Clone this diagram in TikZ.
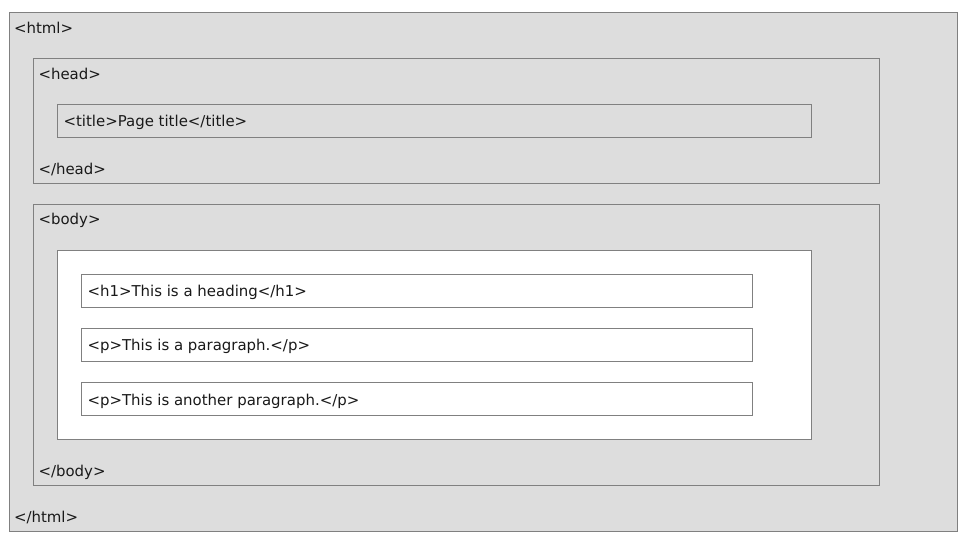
\documentclass[tikz,border=0pt]{standalone}
\usepackage{fontspec}
\setmainfont{DejaVu Sans}
\begin{document}
\begin{tikzpicture}[x=1pt,y=-1pt,
  box/.style={line width=1pt, inner sep=0pt, outer sep=0pt, anchor=north west},
  graybox/.style={box, fill=boxgray},
  whitebox/.style={box, fill=white},
  lbl/.style={anchor=base west, inner sep=0pt, outer sep=0pt, font=\fontsize{14.95}{17}\selectfont, text=black!90}]
\definecolor{boxgray}{HTML}{DDDDDD}
\colorlet{edge}{black!50}
\tikzset{box/.append style={draw=edge}}
\useasboundingbox[fill=white] (0,0) rectangle (973,545);
\node[graybox, minimum width=948pt, minimum height=518.5pt] (html) at (9.5,12.5) {};
\node[graybox, minimum width=846pt, minimum height=125pt] (head) at (33.5,58.5) {};
\node[graybox, minimum width=754pt, minimum height=33pt] (title) at (57.5,104.5) {};
\node[graybox, minimum width=846pt, minimum height=281pt] (body) at (33.5,204.5) {};
\node[whitebox, minimum width=754pt, minimum height=189pt] (main) at (57.5,250.5) {};
\node[whitebox, minimum width=671pt, minimum height=33pt] (h1) at (81.5,274.5) {};
\node[whitebox, minimum width=671pt, minimum height=33pt] (p1) at (81.5,328.5) {};
\node[whitebox, minimum width=671pt, minimum height=33pt] (p2) at (81.5,382.5) {};
\node[lbl] (thtml) at (14,33.3) {<html>};
\node[lbl] (thead) at (38.5,79.3) {<head>};
\node[lbl] (ttitle) at (63.5,126.7) {<title>Page title</title>};
\node[lbl] (theadc) at (38.5,175) {</head>};
\node[lbl] (tbody) at (38.5,224.5) {<body>};
\node[lbl] (th1) at (87.5,296.7) {<h1>This is a heading</h1>};
\node[lbl] (tp1) at (87.5,350.8) {<p>This is a paragraph.</p>};
\node[lbl] (tp2) at (87.5,405) {<p>This is another paragraph.</p>};
\node[lbl] (tbodyc) at (38.5,476.7) {</body>};
\node[lbl] (thtmlc) at (14,522.7) {</html>};
\end{tikzpicture}
\end{document}
